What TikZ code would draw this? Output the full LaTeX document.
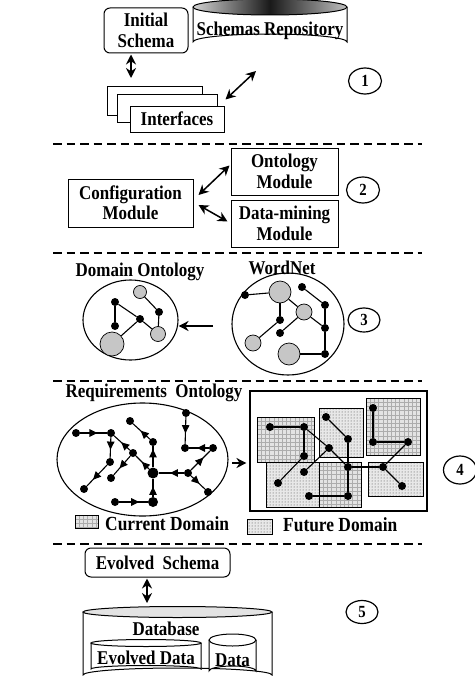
\documentclass[tikz,border=0pt]{standalone}
\usepackage{fontspec}
\setmainfont{Liberation Serif}[FakeStretch=0.87]
\usetikzlibrary{arrows.meta,decorations.markings,patterns,shapes.geometric}

\newcommand\curdom[4]{%
  \fill[gray!22] (#1,#2) rectangle (#3,#4);
  \begin{scope}
    \clip (#1,#2) rectangle (#3,#4);
    \foreach \k in {1,...,15}{
      \draw[gray!65,line width=0.6pt] ({#1+4.2*\k},#2) -- ({#1+4.2*\k},#4);
      \draw[gray!65,line width=0.6pt] (#1,{#2+4.2*\k}) -- (#3,{#2+4.2*\k});
    }
  \end{scope}
  \draw[line width=0.9pt] (#1,#2) rectangle (#3,#4);
}
\newcommand\futdom[4]{%
  \fill[gray!18] (#1,#2) rectangle (#3,#4);
  \fill[pattern=dots, pattern color=black!75] (#1,#2) rectangle (#3,#4);
  \draw[line width=0.9pt] (#1,#2) rectangle (#3,#4);
}

\begin{document}
\begin{tikzpicture}[x=1pt,y=-1pt,
  txt/.style={font=\bfseries\fontsize{19.5}{20.5}\selectfont, align=center, inner sep=0},
  box/.style={txt, draw, line width=1pt, fill=white},
  rbox/.style={box, rounded corners=6pt},
  num/.style={draw, ellipse, line width=1.2pt, minimum width=33pt, minimum height=26pt, inner sep=0, font=\bfseries\fontsize{17}{17}\selectfont},
  dbl/.style={{Stealth[length=10pt,width=10pt]}-{Stealth[length=10pt,width=10pt]}, line width=1.5pt},
  sarr/.style={-{Stealth[length=10pt,width=10pt]}, line width=1.5pt},
  bdot/.style={circle, fill=black, inner sep=0, minimum size=#1},
  bdot/.default=8pt,
  gnode/.style={circle, draw, fill=gray!45, line width=0.7pt, inner sep=0, minimum size=#1},
  lnk/.style={line width=1.1pt},
  midarrow/.style={lnk, postaction={decorate}, decoration={markings, mark=at position #1 with {\arrow{Triangle[length=8pt,width=7.5pt]}}}},
  midarrow/.default=0.6,
  sepline/.style={line width=1.2pt, dash pattern=on 8.5pt off 5pt},
  cont/.style={draw, ellipse, line width=1.1pt, inner sep=0}
]
\useasboundingbox (0,0) rectangle (474,685);

% separators
\draw[sepline] (53,144) -- (422,144);
\draw[sepline] (53,253) -- (422,253);
\draw[sepline] (53,381) -- (422,381);
\draw[sepline] (53,544) -- (422,544);

% ---------- Section 1 ----------
\node[rbox, minimum width=84pt, minimum height=45pt] (init) at (146,30.5) {Initial\\Schema};
% repository cylinder
\fill[white] (193,7) rectangle (347,42);
\draw[line width=1pt] (193,7) -- (193,42) arc[start angle=180,end angle=360,x radius=77,y radius=8] -- (347,7);
\fill[black!70] (270,7) ellipse[x radius=77, y radius=8];
\shade[left color=gray!35, right color=gray!50, middle color=black!90] (270,7) ellipse[x radius=77, y radius=8];
\draw[line width=1pt] (270,7) ellipse[x radius=77, y radius=8];
\node[txt] (repo) at (270,31) {Schemas Repository};
% interfaces stack
\draw[line width=1pt, fill=white] (107,86) rectangle (202,115);
\draw[line width=1pt, fill=white] (117,94) rectangle (217,122);
\node[box, minimum width=94pt, minimum height=26pt] (intf) at (177,119) {Interfaces};
\coordinate (ia) at (131,78);
\draw[dbl] ([xshift=-15pt,yshift=-1pt]init.south) -- (ia);
\coordinate (ra) at (256,71);
\draw[dbl] ([shift={(1,-6)}]intf.north east) -- (ra);
\node[num] (c1) at (365,81) {1};

% ---------- Section 2 ----------
\node[box, minimum width=125pt, minimum height=48pt] (cfg) at (130.5,203) {Configuration\\Module};
\node[box, minimum width=107pt, minimum height=47pt] (onto) at (284.5,171.5) {Ontology\\Module};
\node[box, minimum width=107pt, minimum height=47pt] (dm) at (284.5,223.5) {Data-mining\\Module};
\draw[dbl] ([shift={(5,-8)}]cfg.east) -- ([shift={(-1,-6)}]onto.west);
\draw[dbl] ([shift={(5,2)}]cfg.east) -- ([shift={(-3,-2)}]dm.west);
\node[num] (c2) at (363,190) {2};

% ---------- Section 3 ----------
\node[txt] (dol) at (140,272) {Domain Ontology};
\node[cont, minimum width=95pt, minimum height=80pt] (dom) at (130.5,320) {};
\node[gnode=13pt] (d1) at (140,292) {};
\node[bdot] (d2) at (115,302) {};
\node[bdot] (d3) at (159,312) {};
\node[bdot] (d4) at (140,319) {};
\node[bdot] (d5) at (115,326) {};
\node[gnode=15pt] (d6) at (158,334) {};
\node[gnode=24pt] (d7) at (112,344) {};
\draw[lnk] (d1) -- (d3);
\draw[lnk] (d3) -- (d6);
\draw[lnk] (d2) -- (d4);
\draw[lnk] (d2) -- (d5);
\draw[lnk] (d4) -- (d7);
\draw[lnk] (d4) -- (d6);

\node[txt] (wnl) at (282,268) {WordNet};
\node[cont, minimum width=112pt, minimum height=102pt] (wn) at (288,324) {};
\node[bdot] (wA) at (245,295) {};
\node[gnode=22pt] (wB) at (280,292) {};
\node[bdot] (wC) at (302,287) {};
\node[bdot] (wD) at (325,305) {};
\node[gnode=16pt] (wE) at (304,312) {};
\node[bdot] (wF) at (280,320) {};
\node[bdot] (wG) at (325,328) {};
\node[bdot] (wH) at (280,333) {};
\node[gnode=16pt] (wI) at (253,343) {};
\node[gnode=22pt] (wJ) at (289,354) {};
\node[bdot] (wK) at (325,354) {};
\draw[lnk] (wA) -- (wB);
\draw[lnk] (wB) -- (wF);
\draw[lnk] (wB) -- (wE);
\draw[lnk] (wC) -- (wD);
\draw[lnk] (wD) -- (wG);
\draw[lnk] (wE) -- (wG);
\draw[lnk] (wG) -- (wK);
\draw[lnk] (wJ) -- (wK);
\draw[lnk] (wE) -- (wH);
\draw[lnk] (wF) -- (wI);
\coordinate (w3) at (213,326);
\draw[sarr] (w3) -- (w3 -| dom.east);
\node[num, minimum width=32pt, minimum height=24pt] (c3) at (364,320) {3};

% ---------- Section 4 ----------
\node[txt] (rol) at (154,393) {Requirements\ \ Ontology};
\node[cont, minimum width=171pt, minimum height=113pt] (req) at (142.5,459.5) {};
\node[bdot] (n1) at (76,433) {};
\node[bdot] (n2) at (111,433) {};
\node[bdot] (n3) at (130,421) {};
\node[bdot] (n4) at (153,442) {};
\node[bdot] (n5) at (133,453) {};
\node[bdot] (n6) at (110,462) {};
\node[bdot] (n7) at (111,478) {};
\node[bdot] (n8) at (84,489) {};
\node[bdot=11pt] (n9) at (153,473) {};
\node[bdot] (n10) at (186,413) {};
\node[bdot] (n11) at (185,448) {};
\node[bdot] (n12) at (213,448) {};
\node[bdot] (n13) at (188,473) {};
\node[bdot] (n14) at (208,492) {};
\node[bdot] (n15) at (115,502) {};
\node[bdot=10pt] (n16) at (153,502) {};
\draw[midarrow=0.65] (n1) -- (n2);
\draw[midarrow=0.6] (n2) -- (n6);
\draw[midarrow=0.55] (n5) -- (n2);
\draw[midarrow=0.65] (n5) -- (n7);
\draw[midarrow=0.7] (n6) -- (n8);
\draw[midarrow=0.55] (n4) -- (n3);
\draw[midarrow=0.85] (n9) -- (n4);
\draw[midarrow=0.55] (n9) -- (n5);
\draw[midarrow=0.55] (n13) -- (n9);
\draw[midarrow=0.6] (n12) -- (n11);
\draw[midarrow=0.6] (n10) -- (n11);
\draw[midarrow=0.65] (n13) -- (n12);
\draw[midarrow=0.6] (n13) -- (n14);
\draw[midarrow=0.55] (n16) -- (n9);
\draw[midarrow=0.7] (n15) -- (n16);

\node[draw, line width=1.1pt, fill=white, minimum width=177pt, minimum height=120pt, inner sep=0] (rb) at (338.5,451) {};
\coordinate (ra4) at (232,463);
\draw[sarr] (ra4) -- ([xshift=-3pt]ra4 -| rb.west);
\curdom{257}{417}{314}{462}
\futdom{319}{408}{363}{457}
\curdom{366}{398}{420}{455}
\futdom{266}{462}{320}{507}
\curdom{319}{462}{361}{507}
\futdom{368}{462}{423}{496}
\node[bdot] (ra1) at (270,427) {};
\node[bdot] (rb1) at (304,427) {};
\node[bdot] (rc1) at (304,456) {};
\node[bdot] (rd1) at (304,472) {};
\node[bdot] (re1) at (278,483) {};
\node[bdot] (rf1) at (326,417) {};
\node[bdot] (rg1) at (348,439) {};
\node[bdot] (rh1) at (329,448) {};
\node[bdot] (ri1) at (348,467) {};
\node[bdot] (rj1) at (309,496) {};
\node[bdot] (rk1) at (348,496) {};
\node[bdot] (rl1) at (373,408) {};
\node[bdot] (rm1) at (373,442) {};
\node[bdot] (rn1) at (408,442) {};
\node[bdot] (ro1) at (383,467) {};
\node[bdot] (rp1) at (402,486) {};
\draw[lnk] (ra1) -- (rb1);
\draw[lnk] (rb1) -- (rc1);
\draw[lnk] (rb1) -- (rh1);
\draw[lnk] (rh1) -- (rd1);
\draw[lnk] (rc1) -- (re1);
\draw[lnk] (rh1) -- (ri1);
\draw[lnk] (rf1) -- (rg1);
\draw[lnk] (rg1) -- (ri1);
\draw[lnk] (ri1) -- (ro1);
\draw[lnk] (ro1) -- (rn1);
\draw[lnk] (rn1) -- (rm1);
\draw[lnk] (rm1) -- (rl1);
\draw[lnk] (ro1) -- (rp1);
\draw[lnk] (ri1) -- (rk1);
\draw[lnk] (rj1) -- (rk1);

% legend
\curdom{75}{515}{98}{528}
\node[txt, font=\bfseries\fontsize{20}{20}\selectfont, anchor=west] (lcur) at (105,524) {Current Domain};
\futdom{247}{519}{272}{534}
\node[txt, font=\bfseries\fontsize{20}{20}\selectfont, anchor=west] (lfut) at (283,525) {Future Domain};
\node[num, minimum height=28pt] (c4) at (460,470) {4};

% ---------- Section 5 ----------
\node[rbox, minimum width=145pt, minimum height=29pt] (evs) at (157.5,562.5) {Evolved\ \ Schema};
% database cylinder
\draw[line width=1pt, fill=white] (83,612) -- (83,675) arc[start angle=180,end angle=360,x radius=94.5,y radius=7] -- (272,612);
\draw[line width=1pt, fill=gray!22] (177.5,612) ellipse[x radius=94.5, y radius=5.5];
\node[txt] (dbl) at (166,629) {Database};
% evolved data cylinder
\draw[line width=1pt, fill=white] (91,643) -- (91,669) arc[start angle=180,end angle=360,x radius=55,y radius=3.5] -- (201,643);
\draw[line width=1pt, fill=white] (146,643) ellipse[x radius=55, y radius=3.5];
\node[txt] (evd) at (146,658) {Evolved Data};
% data cylinder
\draw[line width=1pt, fill=white] (209,640) -- (209,671) arc[start angle=180,end angle=360,x radius=23.5,y radius=5] -- (256,640);
\draw[line width=1pt, fill=white] (232.5,640) ellipse[x radius=23.5, y radius=6];
\node[txt] (dat) at (232.5,660) {Data};
\coordinate (dbtop) at (147,603);
\draw[dbl] ([xshift=-10.5pt,yshift=-1pt]evs.south) -- (dbtop);
\node[num, minimum width=32pt, minimum height=23pt] (c5) at (362,612) {5};
\end{tikzpicture}
\end{document}
